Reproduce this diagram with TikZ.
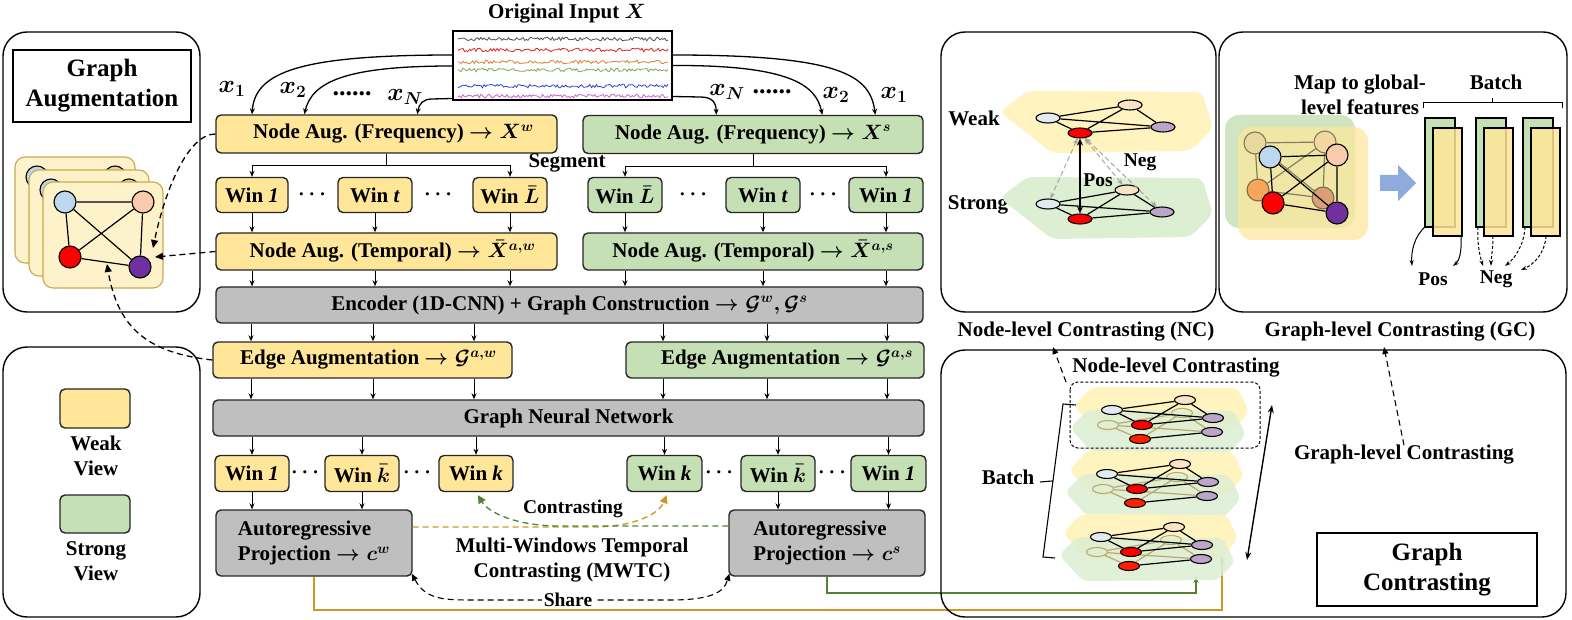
\documentclass[tikz,border=0pt]{standalone}
\usepackage{amsmath}
\usepackage{fontspec}
\setmainfont{Liberation Serif}
\usetikzlibrary{arrows.meta,calc,shapes.geometric}
\definecolor{wkY}{HTML}{FFE699}
\definecolor{stG}{HTML}{C5E0B4}
\definecolor{grB}{HTML}{BFBFBF}
\definecolor{goldL}{HTML}{C99A1E}
\definecolor{grnL}{HTML}{548235}
\definecolor{cardF}{HTML}{FEF2CB}
\definecolor{cardD}{HTML}{C9AA52}
\definecolor{cBlue}{HTML}{BDD7EE}
\definecolor{cPeach}{HTML}{F8CBAD}
\definecolor{cPurple}{HTML}{7030A0}
\definecolor{nWh}{HTML}{E2EBEF}
\definecolor{nPe}{HTML}{FBE3C5}
\definecolor{nPu}{HTML}{BBA5C8}
\definecolor{planeY}{HTML}{FFF3BF}
\definecolor{planeG}{HTML}{DCEFD3}
\definecolor{fadeC}{HTML}{B8A878}
\definecolor{blueA}{HTML}{8FAADC}
\definecolor{sg1}{HTML}{505050}
\definecolor{sg2}{HTML}{E02020}
\definecolor{sg3}{HTML}{D9843C}
\definecolor{sg4}{HTML}{7FA65A}
\definecolor{sg5}{HTML}{3040D0}
\definecolor{sg6}{HTML}{D060D0}
\newcommand\fA{\fontsize{21}{25}\selectfont\bfseries\boldmath}
\newcommand\fT{\fontsize{25}{30}\selectfont\bfseries\boldmath}
\newcommand\fS{\fontsize{19.5}{23}\selectfont\bfseries\boldmath}
\newcommand\fM{\fontsize{26}{28}\selectfont\bfseries\boldmath}
\begin{document}
\begin{tikzpicture}[x=1pt,y=-1pt,
  box/.style={draw=black!85, line width=1.4pt, rounded corners=5pt, inner sep=0pt, font=\fA},
  wk/.style={box, fill=wkY},
  sg/.style={box, fill=stG},
  gb/.style={box, fill=grB},
  arr/.style={-{Stealth[length=6pt,width=5pt]}, line width=1pt},
  dsh/.style={dash pattern=on 6pt off 4pt, line width=1.3pt},
  panel/.style={draw=black, line width=1.4pt, rounded corners=24pt},
  lbl/.style={font=\fA, inner sep=0pt},
  gnode/.style={circle, draw=black, line width=1.1pt, minimum size=22pt, inner sep=0pt},
  enode/.style={ellipse, draw=black, line width=1.1pt, minimum width=24pt, minimum height=10pt, inner sep=0pt},
  snode/.style={ellipse, draw=black, line width=1.1pt, minimum width=21pt, minimum height=9pt, inner sep=0pt},
  gedge/.style={line width=1.2pt, draw=black},
  fedge/.style={line width=1.2pt, draw=fadeC},
]
\fill[white] (0,0) rectangle (1572,620);
\useasboundingbox (0,0) rectangle (1572,620);

% ---------------- Graph Augmentation panel
\draw[panel] (3,32) rectangle (200,312);
\node[draw, line width=1.8pt, minimum width=178pt, minimum height=72pt, align=center, font=\fT, inner sep=0pt] (gaT) at (102,86) {Graph\\Augmentation};
\foreach \cx/\cy [count=\ci] in {15/157, 29/170, 43/182} {
  \draw[fill=cardF, draw=cardD, line width=1.1pt, rounded corners=10pt] (\cx,\cy) rectangle ++(120,106);
  \node[gnode, fill=cBlue] (cb\ci) at (\cx+22,\cy+20) {};
  \node[gnode, fill=cPeach] (cp\ci) at (\cx+100,\cy+20) {};
  \node[gnode, fill=red] (cr\ci) at (\cx+27,\cy+75) {};
  \node[gnode, fill=cPurple] (cu\ci) at (\cx+97,\cy+85) {};
  \draw[gedge] (cb\ci)--(cp\ci) (cb\ci)--(cr\ci) (cb\ci)--(cu\ci) (cp\ci)--(cr\ci) (cp\ci)--(cu\ci) (cr\ci)--(cu\ci);
}

% ---------------- Legend panel
\draw[panel] (3,347) rectangle (200,617);
\node[wk, minimum width=70pt, minimum height=39pt] (lgw) at (95,408.5) {};
\node[lbl, align=center] (lgwt) at (96,456) {Weak\\View};
\node[sg, minimum width=70pt, minimum height=38pt] (lgs) at (95,514) {};
\node[lbl, align=center] (lgst) at (96,561) {Strong\\View};

% ---------------- Original input
\node[lbl] (oT) at (567,14) {Original Input $X$};
\node[draw, line width=1.8pt, minimum width=219pt, minimum height=69pt, inner sep=0pt] (sig) at (562.5,65.5) {};
\pgfmathsetseed{11}
\foreach \yy/\cc in {39/sg1, 50/sg2, 62/sg3, 70/sg4, 86/sg5, 96/sg6} {
  \draw[color=\cc, line width=0.8pt] plot[domain=458:668, samples=130] (\x, {\yy+1.8*rand});
}

% ---------------- Boxes
\node[wk, minimum width=341pt, minimum height=38pt] (wfreq) at (386.5,134) {\hspace{14pt}Node Aug. (Frequency) $\rightarrow X^{w}$};
\node[sg, minimum width=340pt, minimum height=38pt] (sfreq) at (753,134.5) {Node Aug. (Frequency) $\rightarrow X^{s}$};

\node[wk, minimum width=72pt, minimum height=35pt] (ww1) at (252,195) {Win \textit{1}};
\node[wk, minimum width=74pt, minimum height=35pt] (wwt) at (375,195) {Win \textit{t}};
\node[wk, minimum width=74pt, minimum height=35pt] (wwL) at (510,195) {Win $\bar{L}$};
\node[sg, minimum width=74pt, minimum height=35pt] (swL) at (625,195) {Win $\bar{L}$};
\node[sg, minimum width=74pt, minimum height=35pt] (swt) at (763,195) {Win \textit{t}};
\node[sg, minimum width=74pt, minimum height=35pt] (sw1) at (886,195) {Win \textit{1}};
\node[lbl] (d1) at (314,195) {$\cdots$};
\node[lbl] (d2) at (440,195) {$\cdots$};
\node[lbl] (d3) at (695,195) {$\cdots$};
\node[lbl] (d4) at (825,195) {$\cdots$};
\node[lbl] (segT) at (567,163) {Segment};

\node[wk, minimum width=341pt, minimum height=37pt] (wtemp) at (386.5,251.5) {\hspace{12pt}Node Aug. (Temporal) $\rightarrow \bar{X}^{a,w}$};
\node[sg, minimum width=340pt, minimum height=37pt] (stemp) at (753,251.5) {Node Aug. (Temporal) $\rightarrow \bar{X}^{a,s}$};

\node[gb, minimum width=707pt, minimum height=36pt] (enc) at (569.5,305) {Encoder (1D-CNN) + Graph Construction $\rightarrow \mathcal{G}^{w}, \mathcal{G}^{s}$};

\node[wk, minimum width=299pt, minimum height=36pt] (wedge) at (362.5,360) {\hspace{12pt}Edge Augmentation $\rightarrow \mathcal{G}^{a,w}$};
\node[sg, minimum width=298pt, minimum height=36pt] (sedge) at (775,360) {\hspace{24pt}Edge Augmentation $\rightarrow \mathcal{G}^{a,s}$};

\node[gb, minimum width=711pt, minimum height=36pt] (gnn) at (568.5,418) {Graph Neural Network};

\node[wk, minimum width=74pt, minimum height=36pt] (bw1) at (252,473.5) {Win \textit{1}};
\node[wk, minimum width=74pt, minimum height=36pt] (bwkb) at (362,473.5) {Win $\bar{k}$};
\node[wk, minimum width=74pt, minimum height=36pt] (bwk) at (476,473.5) {Win \textit{k}};
\node[sg, minimum width=75pt, minimum height=36pt] (bsk) at (664.5,473.5) {Win \textit{k}};
\node[sg, minimum width=74pt, minimum height=36pt] (bskb) at (778,473.5) {Win $\bar{k}$};
\node[sg, minimum width=75pt, minimum height=36pt] (bs1) at (888.5,473.5) {Win \textit{1}};
\node[lbl] (d5) at (307,473) {$\cdots$};
\node[lbl] (d6) at (419,473) {$\cdots$};
\node[lbl] (d7) at (721,473) {$\cdots$};
\node[lbl] (d8) at (834,473) {$\cdots$};

\node[gb, minimum width=196pt, minimum height=66pt, align=left] (arw) at (314,543) {Autoregressive\\Projection $\rightarrow c^{w}$};
\node[gb, minimum width=196pt, minimum height=66pt, align=left] (ars) at (827,543) {Autoregressive\\Projection $\rightarrow c^{s}$};

\node[font=\fS, inner sep=0pt] (conT) at (573,509) {Contrasting};
\node[lbl, align=center] (mwT) at (572,560) {Multi-Windows Temporal\\Contrasting (MWTC)};

% ---------------- input arrows and labels
\draw[arr, line width=1.3pt] ($(sig.west)+(0,-10.5)$) .. controls (300,55) and (255,72) .. (wfreq.north -| ww1.north);
\draw[arr, line width=1.3pt] ($(sig.west)+(0,0.5)$) .. controls (345,66) and (312,82) .. ($(wfreq.north west)+(89,0)$);
\draw[arr, line width=1.3pt] ($(sig.west)+(0,33)$) -- (432,99) .. controls (423,99) and (419,104) .. ($(wfreq.north west)+(202,0)$);
\draw[arr, line width=1.3pt] ($(sig.east)+(0,-10.5)$) .. controls (840,55) and (870,75) .. ($(sfreq.north west)+(293,0)$);
\draw[arr, line width=1.3pt] ($(sig.east)+(0,0)$) .. controls (790,65) and (816,85) .. ($(sfreq.north west)+(240,0)$);
\draw[arr, line width=1.3pt] ($(sig.east)+(0,31)$) -- (700,97) .. controls (712,97) and (716,102) .. ($(sfreq.north west)+(134,0)$);
\node[font=\fM, inner sep=0pt] (xa1) at (232,89) {$x_1$};
\node[font=\fM, inner sep=0pt] (xa2) at (293,90) {$x_2$};
\node[font=\fM, inner sep=0pt] (xad) at (352,94) {......};
\node[font=\fM, inner sep=0pt] (xaN) at (405,97) {$x_N$};
\node[font=\fM, inner sep=0pt] (xbN) at (727,92) {$x_N$};
\node[font=\fM, inner sep=0pt] (xbd) at (772,92) {......};
\node[font=\fM, inner sep=0pt] (xb2) at (836,95) {$x_2$};
\node[font=\fM, inner sep=0pt] (xb1) at (894,95) {$x_1$};

% ---------------- segment branches
\coordinate (wsg) at ($(wfreq.south)+(0,12)$);
\coordinate (ssg) at ($(sfreq.south)+(0,12)$);
\draw[line width=1pt] (wfreq.south) -- (wsg);
\draw[arr] (wsg) -| (ww1.north);
\draw[arr] (wsg) -| (wwL.north);
\draw[line width=1pt] (sfreq.south) -- (ssg);
\draw[arr] (ssg) -| (swL.north);
\draw[arr] (ssg) -| (sw1.north);

\foreach \w/\t in {ww1/wtemp, wwt/wtemp, wwL/wtemp, swL/stemp, swt/stemp, sw1/stemp} {
  \draw[arr] (\w.south) -- (\t.north -| \w.south);
  \draw[arr] (\t.south -| \w.south) -- (enc.north -| \w.south);
}
\coordinate (k1) at (251,0); \coordinate (k2) at (373,0); \coordinate (k3) at (474,0);
\coordinate (k4) at (663,0); \coordinate (k5) at (767,0); \coordinate (k6) at (887,0);
\foreach \k/\e in {k1/wedge, k2/wedge, k3/wedge, k4/sedge, k5/sedge, k6/sedge} {
  \draw[arr] (enc.south -| \k) -- (\e.north -| \k);
  \draw[arr] (\e.south -| \k) -- (gnn.north -| \k);
}
\foreach \w in {bw1, bwkb, bwk, bsk, bskb, bs1} {
  \draw[arr] (gnn.south -| \w.north) -- (\w.north);
}
\draw[arr] (bw1.south) -- (arw.north -| bw1.south);
\draw[arr] (bwkb.south) -- (arw.north -| bwkb.south);
\draw[arr] (bskb.south) -- (ars.north -| bskb.south);
\draw[arr] (bs1.south) -- (ars.north -| bs1.south);

% ---------------- contrasting arrows
\draw[dsh, draw=goldL, -{Triangle[length=8pt,width=8pt,fill=goldL]}] ($(arw.east)+(0,-16)$) -- (592,527) .. controls (638,527) and (660,512) .. ($(bsk.south)+(2,3)$);
\draw[dsh, draw=grnL, -{Triangle[length=8pt,width=8pt,fill=grnL]}] ($(ars.west)+(0,-17)$) -- (560,526) .. controls (515,526) and (488,512) .. ($(bwk.south)+(2,3)$);
\draw[dsh, line width=1.1pt, {Triangle[length=7pt,width=6pt]}-{Triangle[length=7pt,width=6pt]}] ($(arw.south east)+(-1,-3)$) .. controls (425,598) and (440,600) .. (470,600) -- (670,600) .. controls (712,600) and (724,592) .. ($(ars.south west)+(1,-3)$);
\node[font=\fS, fill=white, inner sep=2pt] (shT) at (568,600) {Share};

% feed lines to graph contrasting
\draw[draw=goldL, line width=1.5pt, -{Stealth[length=7pt,width=5pt]}] (arw.south) -- (314,610) -- (1222,610) -- (1222,556);
\draw[draw=grnL, line width=1.5pt, -{Stealth[length=7pt,width=5pt]}] (ars.south) -- (827,593) -- (1196,593) -- (1196,576);

% ---------------- dashed links to augmentation panel
\draw[dsh, -{Triangle[length=8pt,width=7pt]}] (wfreq.west) .. controls (188,134) and (165,190) .. ($(cu3)+(13,-19)$);
\draw[dsh, -{Triangle[length=8pt,width=7pt]}] (wtemp.west) -- ($(cu3)+(15,-10)$);
\draw[dsh, -{Triangle[length=8pt,width=7pt]}] (wedge.west) .. controls (150,353) and (118,330) .. ($(cu3)+(-33,-3)$);

% ---------------- NC panel
\draw[panel] (941,32) rectangle (1216,312);
\node[lbl] (wkT) at (974,118) {Weak};
\node[lbl] (stT) at (978,205) {Strong};
\fill[planeY, rounded corners=7pt] (1000,112) -- (1027,91) -- (1202,92) -- (1213,128) -- (1190,151) -- (1052,153) -- cycle;
\fill[planeG, rounded corners=7pt] (1000,198) -- (1027,177) -- (1202,178) -- (1213,214) -- (1190,237) -- (1052,239) -- cycle;
\node[enode, fill=nWh] (nw) at (1048,118) {};
\node[enode, fill=nPe] (np) at (1130,105) {};
\node[enode, fill=nPu] (nu) at (1163,127) {};
\node[enode, fill=red] (nr) at (1080,133) {};
\draw[gedge] (nw)--(np) (nw)--(nu) (nw)--(nr) (nr)--(np) (nr)--(nu) (np)--(nu);
\node[enode, fill=nWh] (sw) at (1048,204) {};
\node[enode, fill=nPe] (sp) at (1127,190) {};
\node[enode, fill=nPu] (su) at (1162,212) {};
\node[enode, fill=red] (sr) at (1080,219) {};
\draw[gedge] (sw)--(sp) (sw)--(su) (sw)--(sr) (sr)--(sp) (sr)--(su) (sp)--(su);
\draw[gray!70, line width=1pt, dash pattern=on 5pt off 3pt, {Stealth[length=6pt,width=5pt]}-{Stealth[length=6pt,width=5pt]}] (nr) -- (sw);
\draw[gray!70, line width=1pt, dash pattern=on 5pt off 3pt, {Stealth[length=6pt,width=5pt]}-{Stealth[length=6pt,width=5pt]}] (nr) -- (sp);
\draw[gray!70, line width=1pt, dash pattern=on 5pt off 3pt, {Stealth[length=6pt,width=5pt]}-{Stealth[length=6pt,width=5pt]}] (nr) -- (su);
\draw[line width=1.3pt, {Stealth[length=7pt,width=6pt]}-{Stealth[length=7pt,width=6pt]}] (nr) -- (sr);
\node[font=\fS, inner sep=0pt] (posA) at (1098,180) {Pos};
\node[font=\fS, inner sep=0pt] (negA) at (1140,162) {Neg};
\node[lbl] (ncT) at (1086,332) {Node-level Contrasting (NC)};

% ---------------- GC panel
\draw[panel] (1219,32) rectangle (1567,312);
\node[lbl, align=center] (mapT) at (1360,95) {Map to global-\\level features};
\node[lbl] (batT) at (1496,82) {Batch};
\draw[line width=1pt] (1423,108) -- (1423,103) -- (1562,103) -- (1562,108) (1492,103) -- (1492,98);
\fill[stG, opacity=.8, rounded corners=14pt] (1225,115) rectangle (1355,228);
\fill[wkY, opacity=.7, rounded corners=14pt] (1238,127) rectangle (1368,240);
\begin{scope}[opacity=.45]
\node[gnode, fill=cardD!60] (ga) at (1255,143) {};
\node[gnode, fill=cPeach!90!orange] (gbp) at (1325,142) {};
\node[gnode, fill=orange!70!red] (gc) at (1258,190) {};
\node[gnode, fill=purple!40!brown] (gd) at (1323,198) {};
\draw[gedge] (ga)--(gbp) (ga)--(gc) (gbp)--(gd) (gc)--(gd) (gc)--(gbp) (ga)--(gd);
\end{scope}
\node[gnode, fill=cBlue] (ge) at (1270,157) {};
\node[gnode, fill=cPeach] (gf) at (1337,155) {};
\node[gnode, fill=red] (gg) at (1273,203) {};
\node[gnode, fill=cPurple] (gh) at (1337,213) {};
\draw[gedge] (ge)--(gf) (ge)--(gg) (ge)--(gh) (gf)--(gg) (gf)--(gh) (gg)--(gh);
\fill[blueA] (1380,175) -- (1398,175) -- (1398,165) -- (1416,183) -- (1398,201) -- (1398,191) -- (1380,191) -- cycle;
\foreach \bx [count=\bi] in {1425, 1476, 1523} {
  \draw[fill=stG, line width=1.2pt] (\bx,118) rectangle ++(30,109);
  \draw[fill=wkY, fill opacity=.85, line width=1.2pt] (\bx+8,128) rectangle ++(29,108);
}
\draw[-{Stealth[length=6pt,width=4pt]}, line width=1pt] (1426,226) .. controls (1414,236) and (1411,252) .. (1412,266);
\draw[-{Stealth[length=6pt,width=4pt]}, line width=1pt] (1461,236) .. controls (1462,252) and (1459,261) .. (1453,266);
\draw[-{Stealth[length=6pt,width=4pt]}, line width=1pt, dash pattern=on 3pt off 2pt] (1478,227) .. controls (1477,245) and (1480,256) .. (1483,266);
\draw[-{Stealth[length=6pt,width=4pt]}, line width=1pt, dash pattern=on 3pt off 2pt] (1493,236) .. controls (1493,250) and (1491,258) .. (1491,266);
\draw[-{Stealth[length=6pt,width=4pt]}, line width=1pt, dash pattern=on 3pt off 2pt] (1525,227) .. controls (1524,245) and (1515,258) .. (1505,266);
\draw[-{Stealth[length=6pt,width=4pt]}, line width=1pt, dash pattern=on 3pt off 2pt] (1546,236) .. controls (1545,252) and (1535,264) .. (1521,270);
\node[font=\fS, inner sep=0pt] (gpos) at (1433,279) {Pos};
\node[font=\fS, inner sep=0pt] (gneg) at (1496,279) {Neg};
\node[lbl] (gcT) at (1400,332) {Graph-level Contrasting (GC)};

% ---------------- Graph contrasting panel
\draw[panel] (941,350) rectangle (1566,617);
\node[lbl] (nlT) at (1176,368) {Node-level Contrasting};
\foreach \ox/\oy [count=\k] in {0/0, -5/64, -11/127} {
 \begin{scope}[shift={(\ox,\oy)}]
  \fill[planeY, rounded corners=6pt] (1074,406) -- (1092,387) -- (1238,388) -- (1249,412) -- (1232,431) -- (1098,432) -- cycle;
  \fill[planeG, opacity=.85, rounded corners=6pt] (1070,428) -- (1088,410) -- (1234,411) -- (1246,435) -- (1229,453) -- (1094,454) -- cycle;
  \node[snode, draw=fadeC] (qw\k) at (1108,425) {};
  \node[snode, draw=fadeC] (qp\k) at (1182,413) {};
  \node[snode, fill=nPu] (qu\k) at (1212,432) {};
  \node[snode, fill=red!75!orange] (qr\k) at (1140,439) {};
  \draw[fedge] (qw\k)--(qp\k) (qw\k)--(qr\k) (qw\k)--(qu\k) (qp\k)--(qr\k) (qp\k)--(qu\k);
  \draw[gedge] (qr\k)--(qu\k);
  \node[snode, fill=nWh] (yw\k) at (1112,410) {};
  \node[snode, fill=nPe] (yp\k) at (1185,400) {};
  \node[snode, fill=nPu] (yu\k) at (1213,418) {};
  \node[snode, fill=red] (yr\k) at (1142,425) {};
  \draw[gedge] (yw\k)--(yp\k) (yw\k)--(yu\k) (yw\k)--(yr\k) (yr\k)--(yp\k) (yr\k)--(yu\k) (yp\k)--(yu\k);
 \end{scope}
}
\draw[line width=1pt, dash pattern=on 3pt off 2pt, rounded corners=8pt] (1070,382) rectangle (1260,448);
\draw[line width=1.1pt] (1076,405) -- (1063,404) -- (1043,557) -- (1055,558) (1052,481) -- (1040,482);
\node[lbl] (batB) at (1008,477) {Batch};
\draw[line width=1.4pt, {Stealth[length=8pt,width=6pt]}-{Stealth[length=8pt,width=6pt]}] (1272,405) -- (1247,560);
\node[lbl] (glT) at (1404,455) {Graph-level Contrasting};
\coordinate (ncTip) at (1053,347);
\coordinate (gcTip) at (1384,347);
\draw[dsh, line width=1.1pt, -{Triangle[length=7pt,width=6pt]}] (1066,382) -- (ncTip);
\draw[dsh, line width=1.1pt, -{Triangle[length=7pt,width=6pt]}] (glT.north) -- (gcTip);
\node[draw, line width=1.8pt, minimum width=220pt, minimum height=73pt, align=center, font=\fT, inner sep=0pt] (gcB) at (1427,569.5) {Graph\\Contrasting};
\end{tikzpicture}
\end{document}
